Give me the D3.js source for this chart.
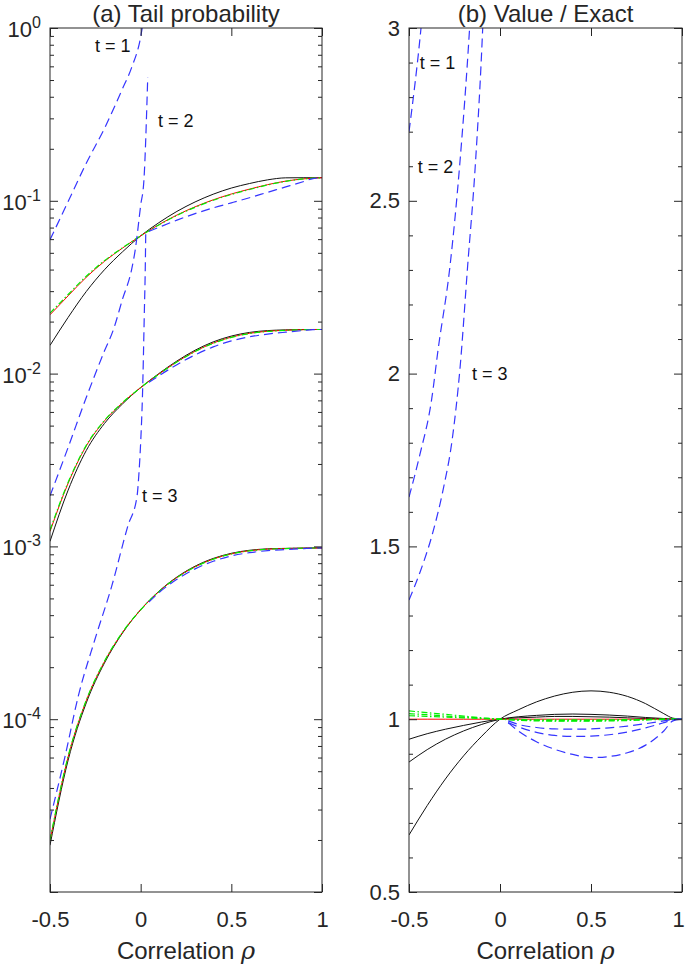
<!DOCTYPE html>
<html>
<head>
<meta charset="utf-8">
<script src="https://cdn.jsdelivr.net/npm/d3@7/dist/d3.min.js"></script>
<style>
html,body{margin:0;padding:0;background:#fff;}
svg{display:block;}
</style>
</head>
<body>
<svg id="chart" width="685" height="965"></svg>
<script>
// ---------------- DATA ----------------
const rho = [-0.5,-0.4,-0.3,-0.2,-0.1,0,0.1,0.2,0.3,0.4,0.5,0.6,0.7,0.8,0.9,0.95,1];
const xTickValues = [-0.5, 0, 0.5, 1];
const logTickExponents = [0, -1, -2, -3, -4];
const ratioTickValues = [0.5, 1, 1.5, 2, 2.5, 3];

// (a) tail probabilities: exact (red), black, green
const exactT1 = [0.0219,0.0282,0.0361,0.0446,0.0533,0.0627,0.0727,0.0827,0.0923,0.1013,0.1095,0.1168,0.1240,0.1300,0.1340,0.1352,0.1360];
const blackT1 = [0.01456,0.02115,0.02985,0.03987,0.05069,0.0627,0.07466,0.08684,0.09848,0.1092,0.1185,0.1259,0.1322,0.1358,0.1360,0.1360,0.1360];
const greenT1 = [0.0224,0.0287,0.0366,0.0450,0.0535,0.0627,0.0725,0.0823,0.0917,0.1007,0.1088,0.1162,0.1235,0.1297,0.1339,0.1352,0.1360];
const exactT2 = [0.00122,0.00232,0.00381,0.00532,0.00678,0.0083,0.00993,0.0117,0.01346,0.01503,0.01626,0.01710,0.01758,0.01782,0.01795,0.0180,0.0180];
const blackT2 = [0.001069,0.002116,0.003589,0.005139,0.006678,0.0083,0.0100,0.01183,0.01365,0.01526,0.01649,0.01731,0.01774,0.01791,0.01799,0.0180,0.0180];
const greenT2 = [0.00124,0.00235,0.003844,0.005352,0.0068,0.0083,0.00991,0.01166,0.01341,0.01497,0.01620,0.01705,0.01754,0.01780,0.01795,0.0180,0.0180];
const exactT3 = [1.98e-5,6.05e-5,1.28e-4,2.15e-4,3.18e-4,4.30e-4,5.47e-4,6.61e-4,7.62e-4,8.45e-4,9.06e-4,9.44e-4,9.64e-4,9.72e-4,9.77e-4,9.79e-4,9.80e-4];
const blackT3 = [1.865e-5,5.796e-5,1.243e-4,2.111e-4,3.155e-4,4.30e-4,5.492e-4,6.650e-4,7.681e-4,8.518e-4,9.123e-4,9.497e-4,9.679e-4,9.739e-4,9.78e-4,9.79e-4,9.80e-4];
const greenT3 = [2.0e-5,6.098e-5,1.288e-4,2.159e-4,3.186e-4,4.30e-4,5.465e-4,6.597e-4,7.605e-4,8.433e-4,9.042e-4,9.421e-4,9.630e-4,9.710e-4,9.77e-4,9.79e-4,9.80e-4];

// (a) blue dashed: negative-correlation branch (diverging) and positive branch
const blueNegRhoT1 = [-0.5,-0.4,-0.3,-0.2,-0.1,-0.05,0,0.02];
const blueNegT1    = [0.0595,0.099,0.165,0.262,0.446,0.59,0.887,1.2];
const blueNegRhoT2 = [-0.5,-0.4,-0.3,-0.2,-0.15,-0.1,-0.05,-0.03,0,0.018,0.039];
const blueNegT2    = [0.00196,0.00374,0.00727,0.0135,0.018,0.027,0.040,0.052,0.094,0.132,0.52];
const blueNegRhoT3 = [-0.5,-0.417,-0.344,-0.252,-0.16,-0.07,-0.02,-0.01,0,0.01,0.02,0.026,0.028];
const blueNegT3    = [2.64e-5,6.1e-5,1.36e-4,2.9e-4,5.87e-4,1.32e-3,1.95e-3,2.6e-3,4.0e-3,7.5e-3,0.022,0.045,0.066];
const bluePosRho = [0.045,0.1,0.2,0.3,0.4,0.5,0.6,0.7,0.8,0.9,0.95,1];
const bluePosT1 = [0.0665,0.0702,0.0773,0.0843,0.0910,0.0973,0.1042,0.1120,0.1203,0.1294,0.1345,0.1360];
const bluePosT2 = [0.0089,0.00971,0.01126,0.01283,0.01428,0.01546,0.01633,0.01693,0.01737,0.01777,0.01796,0.0180];
const bluePosT3 = [4.76e-4,5.39e-4,6.45e-4,7.41e-4,8.20e-4,8.81e-4,9.20e-4,9.45e-4,9.59e-4,9.72e-4,9.78e-4,9.80e-4];

// (b) value / exact
const exactRatio = [1,1,1,1,1,1,1,1,1,1,1,1,1,1,1,1,1];
const blackRatioT1 = [0.665,0.750,0.827,0.894,0.951,1,1.027,1.050,1.067,1.078,1.082,1.078,1.066,1.045,1.016,1.003,1.0];
const blackRatioT2 = [0.876,0.912,0.942,0.966,0.985,1,1.007,1.011,1.014,1.015,1.014,1.012,1.009,1.005,1.002,1.0,1.0];
const blackRatioT3 = [0.942,0.958,0.971,0.982,0.992,1,1.004,1.006,1.008,1.008,1.007,1.006,1.004,1.002,1.001,1.0,1.0];
const greenRatioT1 = [1.024,1.019,1.014,1.009,1.004,1,0.997,0.995,0.994,0.994,0.994,0.995,0.996,0.998,0.999,1,1];
const greenRatioT2 = [1.016,1.013,1.009,1.006,1.003,1,0.998,0.997,0.996,0.996,0.996,0.997,0.998,0.999,1,1,1];
const greenRatioT3 = [1.01,1.008,1.006,1.004,1.002,1,0.999,0.998,0.998,0.998,0.998,0.998,0.999,0.999,1,1,1];
const blueRatioNegRhoT1 = [-0.5,-0.434,-0.4];
const blueRatioNegT1    = [2.70,3.0,3.2];
const blueRatioNegRhoT2 = [-0.5,-0.441,-0.376,-0.340,-0.275,-0.222,-0.167,-0.14];
const blueRatioNegT2    = [1.643,1.764,1.924,2.07,2.31,2.6,3.0,3.25];
const blueRatioNegRhoT3 = [-0.5,-0.439,-0.373,-0.313,-0.263,-0.219,-0.178,-0.136,-0.095,-0.08];
const blueRatioNegT3    = [1.345,1.426,1.533,1.663,1.808,2.02,2.31,2.6,3.0,3.2];
const blueRatioPosT1 = [0.99,0.966,0.935,0.913,0.898,0.889,0.892,0.903,0.925,0.966,0.995,1.0];
const blueRatioPosT2 = [0.99,0.978,0.962,0.953,0.95,0.951,0.955,0.963,0.975,0.99,0.998,1.0];
const blueRatioPosT3 = [0.995,0.985,0.976,0.972,0.971,0.972,0.975,0.98,0.987,0.995,0.999,1.0];

// annotations (data coordinates)
const labelsA = [["t = 1", -0.252, 0.787], ["t = 2", 0.096, 0.293], ["t = 3", 0.007, 0.00196]];
const labelsB = [["t = 1", -0.441, 2.9], ["t = 2", -0.452, 2.6], ["t = 3", -0.154, 2.0]];

// ---------------- DRAWING ----------------
const svg = d3.select("#chart");
const FONT = "'Liberation Sans', Arial, Helvetica, sans-serif";
const INK = "#262626";
const TOP = 28, BOTTOM = 892;

const xA = d3.scaleLinear().domain([-0.5, 1]).range([50, 322]);
const yA = d3.scaleLog().domain([1e-5, 1]).range([BOTTOM, TOP]);
const xB = d3.scaleLinear().domain([-0.5, 1]).range([409, 682]);
const yB = d3.scaleLinear().domain([0.5, 3]).range([BOTTOM, TOP]);

const STY = {
  black: {stroke: "#111", w: 1, dash: null},
  red:   {stroke: "#ff0000", w: 1, dash: null},
  green: {stroke: "#00ee00", w: 1.2, dash: "6,2.5,1.5,2.5"},
  blue:  {stroke: "#3535ff", w: 1.2, dash: "9,5"}
};

function clip(id, x) {
  const [x0, x1] = x.range();
  svg.append("clipPath").attr("id", id).append("rect")
    .attr("x", x0).attr("y", TOP).attr("width", x1 - x0).attr("height", BOTTOM - TOP);
}
clip("clipA", xA); clip("clipB", xB);

function drawLines(x, y, clipId, series) {
  const g = svg.append("g").attr("clip-path", `url(#${clipId})`);
  const line = d3.line().x(d => x(d[0])).y(d => y(d[1])).curve(d3.curveMonotoneX);
  series.forEach(s => {
    const st = STY[s.style];
    g.append("path").datum(d3.zip(s.xs, s.ys))
      .attr("d", line).attr("fill", "none")
      .attr("stroke", st.stroke).attr("stroke-width", st.w)
      .attr("stroke-dasharray", st.dash);
  });
}

function drawAxes(x, y, yMajor, yMinor, withYLabels) {
  const [x0, x1] = x.range();
  const g = svg.append("g").attr("color", INK);
  const xb = g.append("g").attr("transform", `translate(0,${BOTTOM})`)
    .call(d3.axisBottom(x).tickValues(xTickValues).tickSize(-8).tickPadding(19).tickFormat(d => String(d)));
  xb.attr("font-size", 22).attr("font-family", FONT);
  // keep the last label inside the picture
  xb.selectAll(".tick text").filter(d => d === 1 && x1 > 600).attr("dx", -4);
  g.append("g").attr("transform", `translate(0,${TOP})`)
    .call(d3.axisTop(x).tickValues(xTickValues).tickSize(-8).tickFormat(""));
  const yl = g.append("g").attr("transform", `translate(${x0},0)`)
    .call(d3.axisLeft(y).tickValues(yMajor).tickSize(-8).tickPadding(9)
      .tickFormat(withYLabels ? d3.format("") : ""));
  yl.attr("font-size", 22).attr("font-family", FONT);
  g.append("g").attr("transform", `translate(${x0},0)`)
    .call(d3.axisLeft(y).tickValues(yMinor).tickSize(-4).tickFormat(""));
  g.append("g").attr("transform", `translate(${x1},0)`)
    .call(d3.axisRight(y).tickValues(yMajor).tickSize(-8).tickFormat(""));
  g.append("g").attr("transform", `translate(${x1},0)`)
    .call(d3.axisRight(y).tickValues(yMinor).tickSize(-4).tickFormat(""));
  g.selectAll(".domain").remove();
  g.selectAll(".tick line").attr("stroke-width", 1);
  g.append("rect").attr("x", x0).attr("y", TOP).attr("width", x1 - x0)
    .attr("height", BOTTOM - TOP).attr("fill", "none").attr("stroke", INK).attr("stroke-width", 1);
  return g;
}

function titles(x, title) {
  const [x0, x1] = x.range();
  const cx = (x0 + x1) / 2;
  svg.append("text").attr("x", cx).attr("y", 22).attr("text-anchor", "middle")
    .attr("font-family", FONT).attr("font-size", 24).attr("fill", INK).text(title);
  const lab = svg.append("text").attr("x", cx).attr("y", 959).attr("text-anchor", "middle")
    .attr("font-family", FONT).attr("font-size", 24).attr("fill", INK);
  lab.append("tspan").text("Correlation ");
  lab.append("tspan").attr("font-style", "italic").attr("font-family", "'DejaVu Serif', serif").text("ρ");
}

function annotate(x, y, labels) {
  labels.forEach(([t, rx, ry]) => {
    svg.append("text").attr("x", x(rx)).attr("y", y(ry) + 6.5)
      .attr("font-family", FONT).attr("font-size", 18).attr("fill", "#111").text(t);
  });
}

// ---- panel (a) ----
const majorA = [1e-5, 1e-4, 1e-3, 1e-2, 1e-1, 1];
const minorA = [];
for (let e = -5; e < 0; e++) for (let m = 2; m <= 9; m++) minorA.push(m * Math.pow(10, e));

drawLines(xA, yA, "clipA", [
  {xs: rho, ys: blackT1, style: "black"}, {xs: rho, ys: blackT2, style: "black"}, {xs: rho, ys: blackT3, style: "black"},
  {xs: rho, ys: exactT1, style: "red"}, {xs: rho, ys: exactT2, style: "red"}, {xs: rho, ys: exactT3, style: "red"},
  {xs: rho, ys: greenT1, style: "green"}, {xs: rho, ys: greenT2, style: "green"}, {xs: rho, ys: greenT3, style: "green"},
  {xs: blueNegRhoT1, ys: blueNegT1, style: "blue"}, {xs: blueNegRhoT2, ys: blueNegT2, style: "blue"}, {xs: blueNegRhoT3, ys: blueNegT3, style: "blue"},
  {xs: bluePosRho, ys: bluePosT1, style: "blue"}, {xs: bluePosRho, ys: bluePosT2, style: "blue"}, {xs: bluePosRho, ys: bluePosT3, style: "blue"}
]);
drawAxes(xA, yA, majorA, minorA, false);
logTickExponents.forEach(e => {
  const t = svg.append("text").attr("x", 41).attr("y", yA(Math.pow(10, e)) + 9)
    .attr("text-anchor", "end").attr("font-family", FONT).attr("font-size", 22).attr("fill", INK);
  t.append("tspan").text("10");
  t.append("tspan").attr("dy", -9).attr("font-size", 16).text(String(e));
});
titles(xA, "(a) Tail probability");
annotate(xA, yA, labelsA);

// ---- panel (b) ----
const minorB = d3.range(5, 31).map(v => v / 10).filter(v => Math.abs(v * 2 - Math.round(v * 2)) > 1e-9);
drawLines(xB, yB, "clipB", [
  {xs: rho, ys: blackRatioT1, style: "black"}, {xs: rho, ys: blackRatioT2, style: "black"}, {xs: rho, ys: blackRatioT3, style: "black"},
  {xs: rho, ys: exactRatio, style: "red"},
  {xs: rho, ys: greenRatioT1, style: "green"}, {xs: rho, ys: greenRatioT2, style: "green"}, {xs: rho, ys: greenRatioT3, style: "green"},
  {xs: blueRatioNegRhoT1, ys: blueRatioNegT1, style: "blue"}, {xs: blueRatioNegRhoT2, ys: blueRatioNegT2, style: "blue"}, {xs: blueRatioNegRhoT3, ys: blueRatioNegT3, style: "blue"},
  {xs: bluePosRho, ys: blueRatioPosT1, style: "blue"}, {xs: bluePosRho, ys: blueRatioPosT2, style: "blue"}, {xs: bluePosRho, ys: blueRatioPosT3, style: "blue"}
]);
drawAxes(xB, yB, ratioTickValues, minorB, true);
titles(xB, "(b) Value / Exact");
annotate(xB, yB, labelsB);
</script>
</body>
</html>
